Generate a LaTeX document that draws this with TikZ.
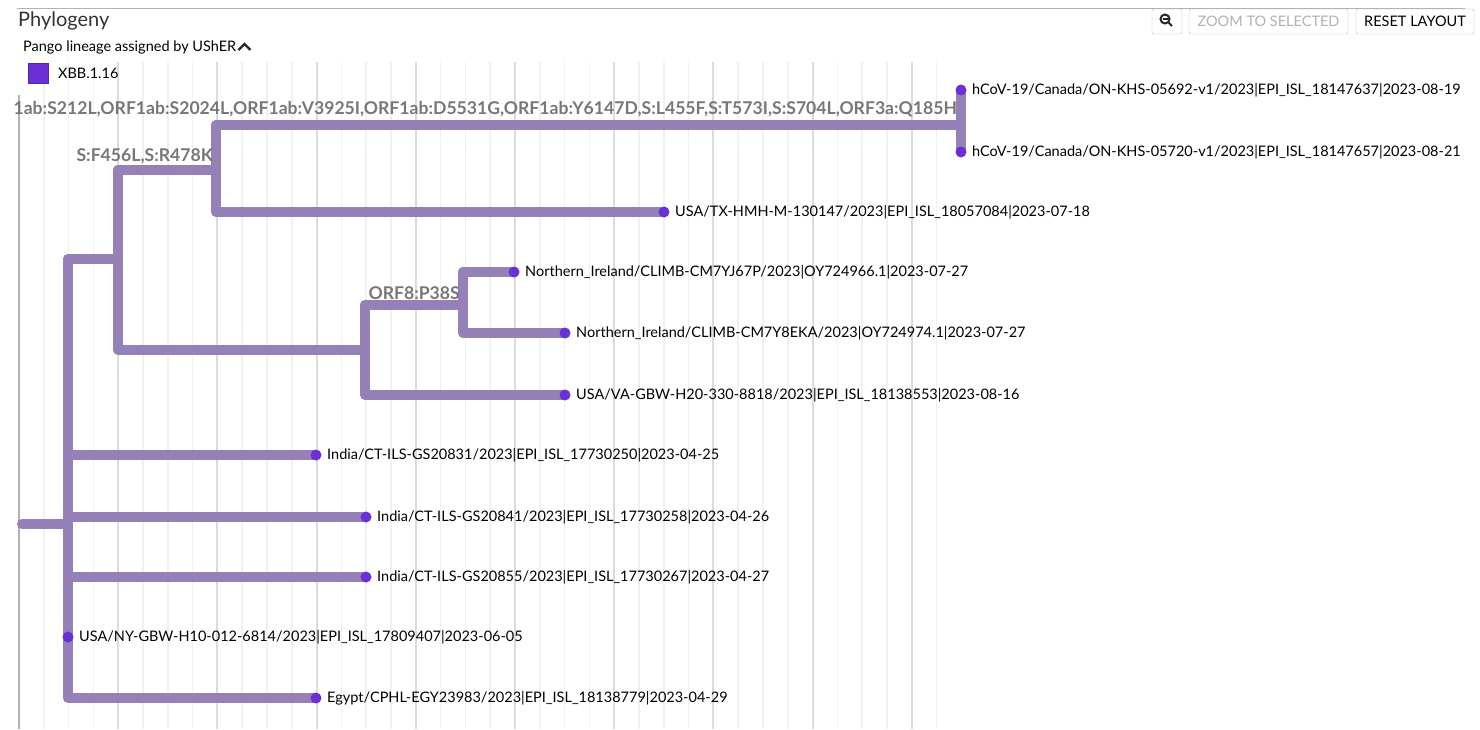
\documentclass[tikz,border=0pt]{standalone}
\usepackage{fontspec}
\setmainfont{Lato}
\begin{document}
\begin{tikzpicture}[x=1pt,y=-1pt,
  br/.style={line width=10pt,draw=brc,line cap=round,line join=round},
  leaf/.style={circle,fill=dotc,inner sep=0pt,minimum size=11pt},
  lab/.style={anchor=west,font=\fontsize{14.5}{16}\selectfont,inner sep=0pt},
  mut/.style={anchor=south east,font=\fontsize{17.6}{19}\selectfont\bfseries,text=mutc,inner sep=0pt},
  btn/.style={draw=black!25,rounded corners=2pt,font=\fontsize{14.5}{16}\selectfont,inner sep=0pt}]
\definecolor{brc}{HTML}{9580B8}
\definecolor{dotc}{HTML}{6A2FD6}
\definecolor{mutc}{HTML}{777777}
\useasboundingbox (0,0) rectangle (1480,729);
\fill[white] (0,0) rectangle (1480,729);
% grid
\foreach \k in {1,...,37}{
  \pgfmathsetmacro\gx{19+24.8*\k}
  \pgfmathtruncatemacro\m{mod(\k,4)}
  \ifnum\m=0 \draw[black!14,line width=2pt] (\gx,62) -- (\gx,729);
  \else \draw[black!6,line width=1.5pt] (\gx,62) -- (\gx,729); \fi}
\draw[black!30,line width=1.5pt] (19,95) -- (19,729);
% header
\draw[black!30] (17,8) -- (1465,8);
\node[anchor=west,inner sep=0pt,font=\fontsize{20}{22}\selectfont,text=black!80] (title) at (18,21) {Phylogeny};
\node[anchor=west,inner sep=0pt,font=\fontsize{14.5}{16}\selectfont] (pango) at (23,47) {Pango lineage assigned by UShER};
\coordinate (car) at ([xshift=8pt]pango.east);
\draw[line width=2.3pt,black!85] ([xshift=-6pt,yshift=-3pt]car) -- ([yshift=3pt]car) -- ([xshift=6pt,yshift=-3pt]car);
\node[draw=dotc!80!black,fill=dotc,minimum size=20pt,inner sep=0pt] (sq) at (38,73) {};
\node[lab] (xbb) at (58,73) {XBB.1.16};
\node[btn,minimum width=30pt,minimum height=25pt] (zb) at (1167,21.5) {};
\draw[line width=2pt,black!85] (1165,19) circle (4.5pt) (1168.5,22.5) -- (1172,26);
\draw[line width=1.3pt,black!85] (1162.5,19) -- (1167.5,19);
\node[btn,minimum width=159pt,minimum height=25pt,text=black!30] (zs) at (1268.5,21.5) {ZOOM TO SELECTED};
\node[btn,minimum width=118pt,minimum height=25pt] (rl) at (1415,21.5) {RESET LAYOUT};
% coordinates of tree nodes
\coordinate (r0) at (22,524);
\coordinate (n1) at (68,524);
% branches
\draw[br] (r0) -- (n1);
\draw[br] (68,259) -- (68,698) -- (316,698);
\draw[br] (68,259) -- (118,259);
\draw[br] (118,170) -- (118,350) -- (365,350);
\draw[br] (118,170) -- (216,170);
\draw[br] (216,125) -- (216,212) -- (664,212);
\draw[br] (216,125) -- (961,125);
\draw[br] (961,90) -- (961,152);
\draw[br] (365,305) -- (365,395) -- (565,395);
\draw[br] (365,305) -- (463,305);
\draw[br] (463,272) -- (463,333) -- (565,333);
\draw[br] (463,272) -- (514,272);
\draw[br] (68,455) -- (316,455);
\draw[br] (68,517) -- (366,517);
\draw[br] (68,577) -- (366,577);
% leaves
\foreach \nm/\x/\y/\t in {
 a/961/90/{hCoV-19/Canada/ON-KHS-05692-v1/2023|EPI\_ISL\_18147637|2023-08-19},
 b/961/152/{hCoV-19/Canada/ON-KHS-05720-v1/2023|EPI\_ISL\_18147657|2023-08-21},
 c/664/212/{USA/TX-HMH-M-130147/2023|EPI\_ISL\_18057084|2023-07-18},
 d/514/272/{Northern\_Ireland/CLIMB-CM7YJ67P/2023|OY724966.1|2023-07-27},
 e/565/333/{Northern\_Ireland/CLIMB-CM7Y8EKA/2023|OY724974.1|2023-07-27},
 f/565/395/{USA/VA-GBW-H20-330-8818/2023|EPI\_ISL\_18138553|2023-08-16},
 g/316/455/{India/CT-ILS-GS20831/2023|EPI\_ISL\_17730250|2023-04-25},
 h/366/517/{India/CT-ILS-GS20841/2023|EPI\_ISL\_17730258|2023-04-26},
 i/366/577/{India/CT-ILS-GS20855/2023|EPI\_ISL\_17730267|2023-04-27},
 j/68/637/{USA/NY-GBW-H10-012-6814/2023|EPI\_ISL\_17809407|2023-06-05},
 k/316/698/{Egypt/CPHL-EGY23983/2023|EPI\_ISL\_18138779|2023-04-29}}{
  \node[leaf] (p\nm) at (\x,\y) {};
  \node[lab] (l\nm) at (\x+11,\y) {\t};}
% mutation labels
\node[mut] (m1) at (957,117) {1ab:S212L,ORF1ab:S2024L,ORF1ab:V3925I,ORF1ab:D5531G,ORF1ab:Y6147D,S:L455F,S:T573I,S:S704L,ORF3a:Q185H};
\node[mut] (m2) at (213,164) {S:F456L,S:R478K};
\node[mut] (m3) at (460,300) {ORF8:P38S};
\end{tikzpicture}
\end{document}
